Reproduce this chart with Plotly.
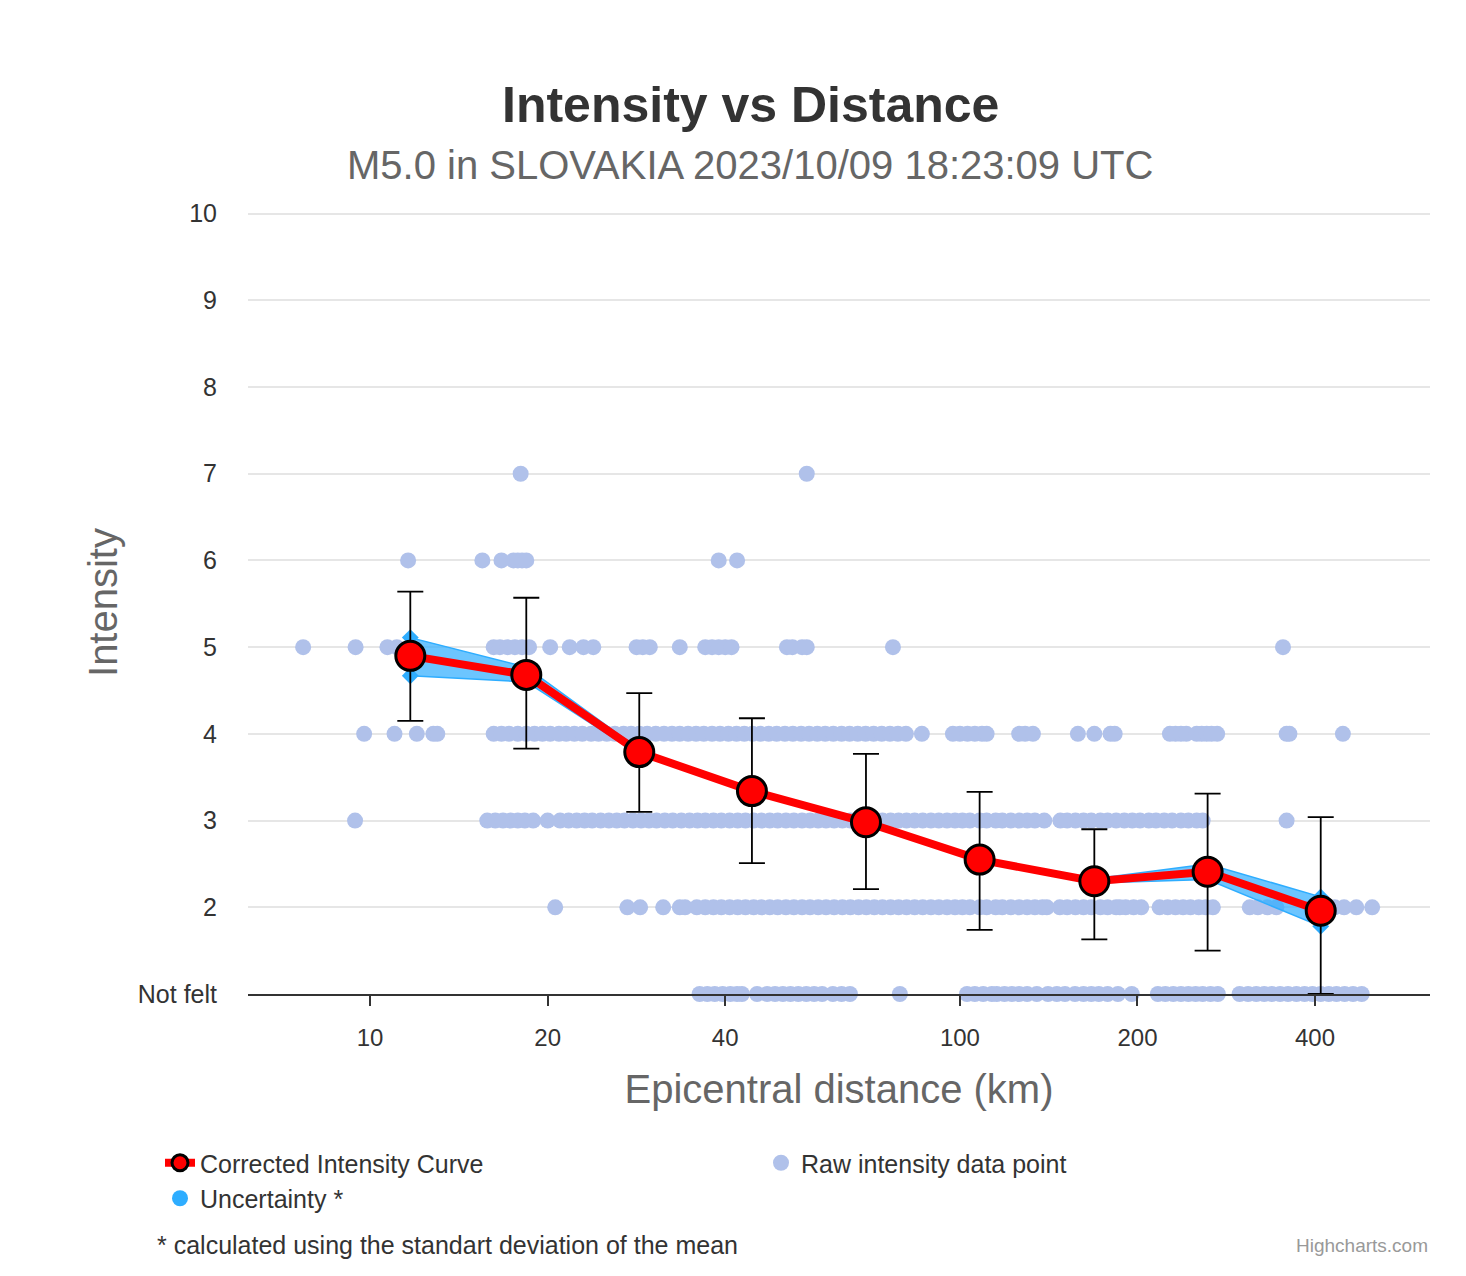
import plotly.graph_objects as go

# ---------------- data ----------------
# Corrected intensity curve
curve_dist = [11.7, 18.4, 28.6, 44.4, 69.3, 108, 169, 263, 409]
curve_int = [4.90, 4.68, 3.79, 3.34, 2.98, 2.55, 2.30, 2.41, 1.96]
err_top = [5.64, 5.57, 4.47, 4.18, 3.77, 3.33, 2.90, 3.31, 3.04]
err_bottom = [4.15, 3.83, 3.10, 2.51, 2.21, 1.74, 1.63, 1.50, 1.00]

# Uncertainty band (standard deviation of the mean)
band_high = [5.11, 4.77, 3.82, 3.37, 3.00, 2.57, 2.33, 2.50, 2.12]
band_low = [4.67, 4.60, 3.76, 3.31, 2.96, 2.52, 2.28, 2.32, 1.78]

# Raw intensity data points: distances (km) per intensity level
raw_i7 = [18.0, 55.0]
raw_i6 = [11.6, 15.5, 16.7, 17.5, 17.8, 18.1, 18.4, 39.0, 41.9]
raw_i5 = [7.7, 9.45, 10.7, 11.1, 16.2, 16.6, 17.1, 17.6, 18.1, 18.6, 20.2, 21.8,
          23.0, 23.9, 28.3, 29.0, 29.8, 33.5, 37.0, 38.0, 39.0, 40.0, 41.0, 50.9,
          52.0, 54.0, 55.0, 77.0, 353]
raw_i4 = [9.77, 11.0, 12.0, 12.8, 13.0,
          16.2, 16.7, 17.2, 17.8, 18.4, 19.0, 19.6, 20.2, 20.9, 21.5, 22.2, 22.9,
          23.7, 24.4, 25.2, 26.0, 26.9, 27.7, 28.6, 29.5, 30.5, 31.5, 32.5, 33.5,
          34.6, 35.7, 36.8, 38.0, 39.2, 40.5, 41.8, 43.1, 44.5, 45.9, 47.4, 48.9,
          50.5, 52.1, 53.8, 55.5, 57.3, 59.1, 61.0, 63.0, 65.0, 67.1, 69.2, 71.4,
          73.7, 76.1, 78.5, 81.0,
          86.2, 97.3, 100, 103, 106, 109, 111, 126, 129, 133, 158.5, 169, 180, 183,
          227, 232, 237, 242, 252, 257, 262, 267, 273, 358, 362, 446]
raw_i3 = [9.43, 15.8, 16.3, 16.8, 17.3, 17.8, 18.3, 18.9, 20.0,
          21.0, 21.7, 22.4, 23.1, 23.8, 24.6, 25.4, 26.2, 27.0, 27.9, 28.8, 29.7,
          30.6, 31.6, 32.6, 33.7, 34.8, 35.9, 37.0, 38.2, 39.4, 40.7, 42.0, 43.3,
          44.7, 46.1, 47.6, 49.1, 50.7, 52.3, 54.0, 55.7, 57.5, 59.3, 61.2, 63.2,
          65.2, 67.3, 69.4, 71.6, 73.9, 76.3, 78.7, 81.2, 83.8, 86.5, 89.3, 92.1,
          95.1, 98.1, 101, 104, 108, 111, 115, 118, 122, 126, 130, 134, 139, 148,
          152, 157, 162, 167, 173, 178, 184, 190, 196, 202, 209, 215, 222, 229,
          237, 244, 252, 258, 358]
raw_i2 = [20.6, 27.3, 28.7, 31.4, 33.5, 34.2,
          35.8, 37.0, 38.2, 39.4, 40.7, 42.0, 43.3, 44.7, 46.1, 47.6, 49.1, 50.7,
          52.3, 54.0, 55.7, 57.5, 59.3, 61.2, 63.2, 65.2, 67.3, 69.4, 71.6, 73.9,
          76.3, 78.7, 81.2, 83.8, 86.5, 89.3, 92.1, 95.1, 98.1, 101, 104, 108, 111,
          115, 118, 122, 126, 130, 134, 138, 140.4,
          147.7, 152, 157, 162, 167, 173, 178, 184, 186.7, 191, 197, 203,
          218, 225, 232, 239, 246, 254, 261, 268.5,
          310, 320, 332, 344, 415, 432, 448, 470, 500]
raw_i1 = [36.2, 37.3, 38.4, 39.6, 40.8, 41.9, 42.7, 45.3,
          47.1, 48.6, 50.1, 51.6, 53.2, 54.9, 56.6, 58.4, 60.9, 63.0, 65.1, 79.1,
          102.8, 106, 109.5, 113.3, 115.5, 119, 122.5, 126, 130, 135,
          141, 146, 150.7, 156.7, 162, 167, 172, 178, 185.3, 195.6,
          216.6, 223, 230, 237, 244, 251, 258, 266, 273.7,
          298, 308, 318, 328, 338, 349, 360, 372, 384, 396, 409, 422, 435, 449,
          464, 480]

raw_levels = [(1, raw_i1), (2, raw_i2), (3, raw_i3), (4, raw_i4),
              (5, raw_i5), (6, raw_i6), (7, raw_i7)]

x_ticks = [10, 20, 40, 100, 200, 400]
y_ticks = [1, 2, 3, 4, 5, 6, 7, 8, 9, 10]
y_ticktext = ["Not felt", "2", "3", "4", "5", "6", "7", "8", "9", "10"]

title_text = "Intensity vs Distance"
subtitle_text = "M5.0 in SLOVAKIA 2023/10/09 18:23:09 UTC"
footnote_text = "* calculated using the standart deviation of the mean"

# ---------------- figure ----------------
FONT = "Liberation Sans, Arial, Helvetica, sans-serif"
RAW_COLOR = "#b0c1ea"
BAND_COLOR = "#2eadff"

W, H = 1466, 1276
ML, MR, MT, MB = 248, 36, 211, 282
PW = W - ML - MR
PH = H - MT - MB
BOTTOM = H - MB


def py(pixel_y):
    return (BOTTOM - pixel_y) / PH


def px(pixel_x):
    return (pixel_x - ML) / PW


raw_x, raw_y = [], []
for lvl, dists in raw_levels:
    raw_x.extend(dists)
    raw_y.extend([lvl] * len(dists))

fig = go.Figure()

fig.add_trace(go.Scatter(
    x=raw_x, y=raw_y, mode="markers", name="Raw intensity data point",
    marker=dict(color=RAW_COLOR, size=16, line=dict(width=0)),
    cliponaxis=False, legendrank=2, hoverinfo="x+y"))

fig.add_trace(go.Scatter(
    x=curve_dist, y=band_low, mode="lines+markers", showlegend=False,
    line=dict(color=BAND_COLOR, width=1.5),
    marker=dict(symbol="diamond", size=13, color=BAND_COLOR)))
fig.add_trace(go.Scatter(
    x=curve_dist, y=band_high, mode="lines+markers", showlegend=False,
    fill="tonexty", fillcolor="rgba(46,173,255,0.7)",
    line=dict(color=BAND_COLOR, width=1.5),
    marker=dict(symbol="diamond", size=13, color=BAND_COLOR)))

err_plus = [t - v for t, v in zip(err_top, curve_int)]
err_minus = [v - b for v, b in zip(curve_int, err_bottom)]

fig.add_trace(go.Scatter(
    x=curve_dist, y=curve_int, mode="lines+markers",
    name="Corrected Intensity Curve", legendrank=1,
    line=dict(color="#ff0000", width=8),
    marker=dict(color="#ff0000", size=29, line=dict(color="#000000", width=3)),
    error_y=dict(type="data", symmetric=False, array=err_plus,
                 arrayminus=err_minus, color="#000000", thickness=1.8, width=13)))

fig.add_trace(go.Scatter(
    x=[None], y=[None], mode="markers", name="Uncertainty *", legendrank=3,
    marker=dict(color=BAND_COLOR, size=16)))

fig.update_layout(
    width=W, height=H, autosize=False,
    margin=dict(l=ML, r=MR, t=MT, b=MB),
    paper_bgcolor="white", plot_bgcolor="white",
    font=dict(family=FONT, color="#333333"),
    showlegend=True,
    legend=dict(orientation="h", xref="paper", yref="paper",
                x=px(160), xanchor="left",
                y=py(1140), yanchor="top",
                entrywidth=556, entrywidthmode="pixels",
                font=dict(size=25, color="#333333", family=FONT),
                traceorder="normal", bgcolor="rgba(0,0,0,0)"),
    xaxis=dict(type="log", range=[0.793, 2.797],
               tickvals=x_ticks, ticktext=[str(v) for v in x_ticks],
               showgrid=False, zeroline=False,
               showline=True, linecolor="#333333", linewidth=2,
               ticks="outside", ticklen=10, tickwidth=2, tickcolor="#333333",
               ticklabelstandoff=11,
               tickfont=dict(size=24, color="#333333", family=FONT),
               title=dict(text="Epicentral distance (km)", standoff=25,
                          font=dict(size=40, color="#666666", family=FONT)),
               automargin=False, fixedrange=True),
    yaxis=dict(range=[1, 10.03], tickvals=y_ticks, ticktext=y_ticktext,
               showgrid=True, gridcolor="#e6e6e6", gridwidth=1.5,
               zeroline=False, showline=False, ticks="",
               ticklabelstandoff=30,
               tickfont=dict(size=25, color="#333333", family=FONT),
               title=dict(text="Intensity", standoff=7,
                          font=dict(size=40, color="#666666", family=FONT)),
               automargin=False, fixedrange=True),
    annotations=[
        dict(text="<b>" + title_text + "</b>", xref="paper", yref="paper",
             x=px(750), y=py(105), xanchor="center",
             yanchor="middle", showarrow=False,
             font=dict(size=50, color="#333333", family=FONT)),
        dict(text=subtitle_text, xref="paper", yref="paper",
             x=px(750), y=py(165), xanchor="center",
             yanchor="middle", showarrow=False,
             font=dict(size=40, color="#666666", family=FONT)),
        dict(text=footnote_text, xref="paper", yref="paper",
             x=px(155), y=py(1245), xanchor="left",
             yanchor="middle", showarrow=False,
             font=dict(size=25, color="#333333", family=FONT)),
        dict(text="Highcharts.com", xref="paper", yref="paper",
             x=1.0, y=py(1245), xanchor="right",
             yanchor="middle", showarrow=False,
             font=dict(size=19, color="#999999", family=FONT)),
    ],
)

fig.write_html("out.html", config={"displayModeBar": False})
